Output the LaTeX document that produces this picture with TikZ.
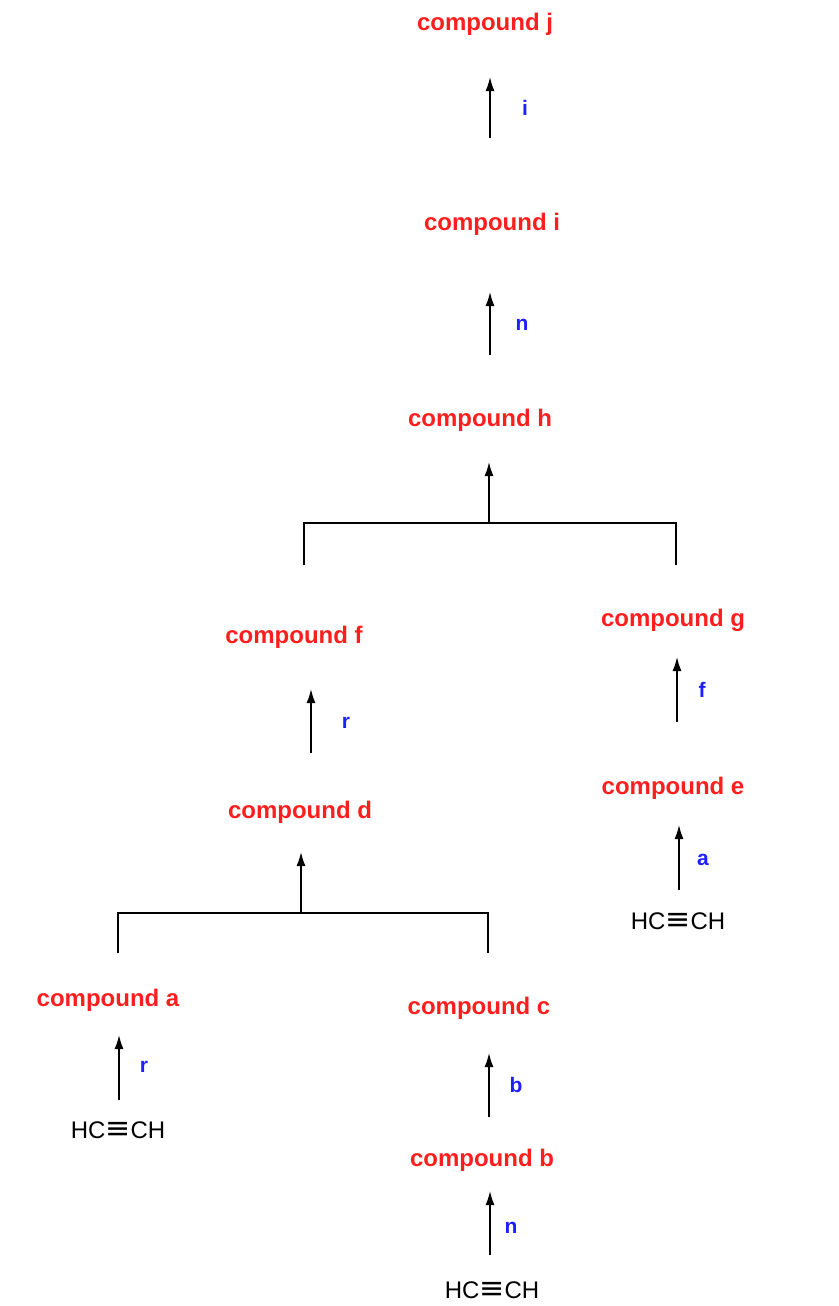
\documentclass[tikz,border=0pt]{standalone}
\usepackage{fontspec}
\setmainfont{Liberation Sans}
\newfontfamily\dvs{DejaVu Sans}
\usetikzlibrary{arrows.meta}
\definecolor{cred}{RGB}{255,30,30}
\definecolor{cblue}{RGB}{30,30,255}
\tikzset{
 cmp/.style={text=cred,font=\fontsize{24}{26}\selectfont\bfseries,inner sep=0pt},
 lab/.style={text=cblue,font=\fontsize{21}{24}\selectfont\bfseries,inner sep=0pt},
 mol/.style={font=\fontsize{24}{26}\selectfont,inner sep=0pt},
 arr/.style={line width=1.5pt,-{Latex[length=14pt,width=9pt]}},
 brk/.style={line width=1.2pt}
}
\newcommand{\hcch}{HC{\dvs\fontsize{30}{26}\selectfont ≡}CH}
\begin{document}
\begin{tikzpicture}[x=1pt,y=-1pt]
\useasboundingbox (0,0) rectangle (838,1306);
\node[cmp] (j) at (485,24) {compound j};
\node[cmp] (i) at (492,224) {compound i};
\node[cmp] (h) at (480,420) {compound h};
\node[cmp] (f) at (294,637) {compound f};
\node[cmp] (d) at (300,812) {compound d};
\node[cmp] (g) at (673,620) {compound g};
\node[cmp] (e) at (673,788) {compound e};
\node[cmp] (a) at (108,1000) {compound a};
\node[cmp] (c) at (479,1008) {compound c};
\node[cmp] (b) at (482,1160) {compound b};
\node[mol] (m1) at (678,921) {\hcch};
\node[mol] (m2) at (118,1130) {\hcch};
\node[mol] (m3) at (492,1290) {\hcch};
% arrows
\coordinate (ij0) at (490,138); \coordinate (ij1) at (490,77);
\draw[arr] (ij0) -- (ij1); \node[lab] (li) at (525,108) {i};
\coordinate (hi0) at (490,355); \coordinate (hi1) at (490,292);
\draw[arr] (hi0) -- (hi1); \node[lab] (ln) at (522,325) {n};
\coordinate (bh) at (489,523); \coordinate (bh1) at (489,462);
\draw[arr] (bh) -- (bh1);
\coordinate (bl) at (304,565); \coordinate (br) at (676,565);
\draw[brk] (bl) -- (304,523) -- (676,523) -- (br);
\coordinate (df0) at (311,753); \coordinate (df1) at (311,689);
\draw[arr] (df0) -- (df1); \node[lab] (lr1) at (346,723) {r};
\coordinate (bd) at (301,913); \coordinate (bd1) at (301,852);
\draw[arr] (bd) -- (bd1);
\draw[brk] (118,953) -- (118,913) -- (488,913) -- (488,953);
\coordinate (eg0) at (677,722); \coordinate (eg1) at (677,657);
\draw[arr] (eg0) -- (eg1); \node[lab] (lf) at (702,690) {f};
\coordinate (me0) at (679,890); \coordinate (me1) at (679,825);
\draw[arr] (me0) -- (me1); \node[lab] (la) at (703,860) {a};
\coordinate (ma0) at (119,1100); \coordinate (ma1) at (119,1035);
\draw[arr] (ma0) -- (ma1); \node[lab] (lr2) at (144,1067) {r};
\coordinate (bc0) at (489,1117); \coordinate (bc1) at (489,1053);
\draw[arr] (bc0) -- (bc1); \node[lab] (lb) at (516,1085) {b};
\coordinate (mb0) at (490,1255); \coordinate (mb1) at (490,1191);
\draw[arr] (mb0) -- (mb1); \node[lab] (ln2) at (511,1228) {n};
\end{tikzpicture}
\end{document}
